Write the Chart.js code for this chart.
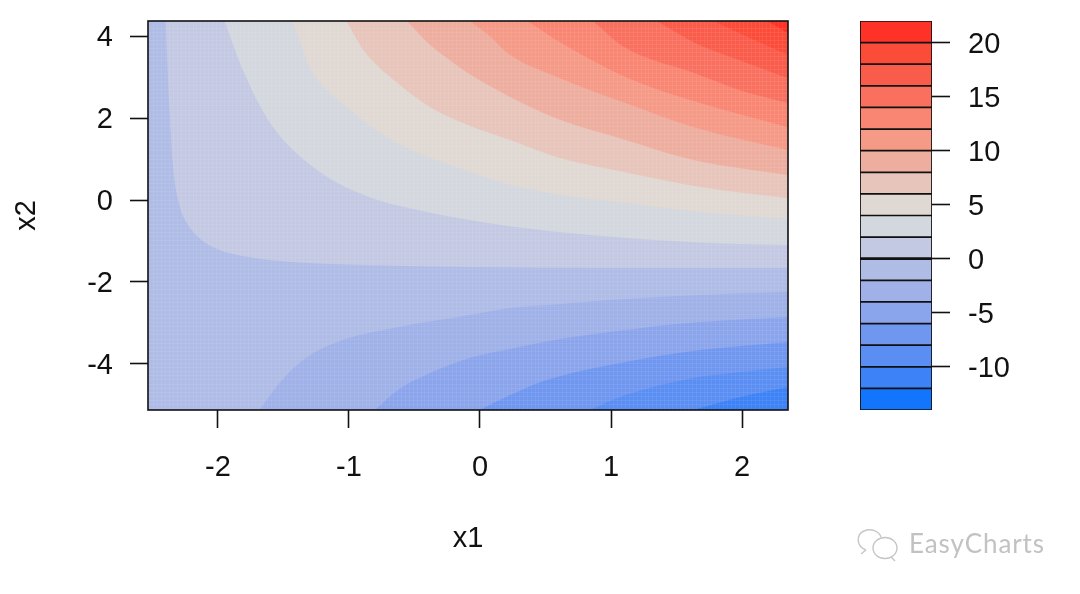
<!DOCTYPE html>
<html>
<head>
<meta charset="utf-8">
<title>Filled contour of x1, x2</title>
<script src="https://cdn.jsdelivr.net/npm/chart.js@4/dist/chart.umd.min.js"></script>
<style>
  html, body { margin: 0; padding: 0; background: #fff; width: 1080px; height: 594px; overflow: hidden; }
  canvas { position: absolute; top: 0; }
  #plot { left: 0; }
  #key { left: 850px; }
  #mark { position: absolute; left: 909px; top: 527px; font: 26px Lato, sans-serif; color: #c2c2c2; letter-spacing: 0.9px; }
  #icon { position: absolute; left: 854px; top: 527px; }
</style>
</head>
<body>
<canvas id="plot" width="1080" height="594"></canvas>
<canvas id="key" width="230" height="594"></canvas>
<svg id="icon" width="48" height="38" fill="none" stroke="#c6c6c6" stroke-width="1.4">
  <path d="M12 23 C3 20 1 8 10 4 C17 1 25 4 27 10"/>
  <path d="M12 23 L7 27"/>
  <ellipse cx="31" cy="21" rx="12" ry="10.5" fill="#fff"/>
  <path d="M37 30 L41 34"/>
</svg>
<div id="mark">EasyCharts</div>

<script>
// axis ticks
const x1Ticks = [-2, -1, 0, 1, 2];
const x2Ticks = [4, 2, 0, -2, -4];
const keyTicks = [20, 15, 10, 5, 0, -5, -10];

// colour key: band edges and the colour of the band above each edge
const keyEdges = [-14, -12, -10, -8, -6, -4, -2, 0, 2, 4, 6, 8, 10, 12, 14, 16, 18, 20, 22];
const bandColors = ['#1275fb', '#3d82f7', '#5b8ef3', '#6f97f0', '#8ba5ec', '#9fb1e8', '#afbce6',
  '#c4c9e3', '#d3d7de', '#e0d8d2', '#e8c5bb', '#eeae9f', '#f69a88', '#f88672', '#f9705f', '#fa5c4b', '#fb4c3a', '#ff3228'];

// contour lines, [x1, x2]
const level0 = [[-2.40, 4.38], [-2.37, 2.20], [-2.34, 0.73], [-2.29, -0.17], [-2.25, -0.49], [-2.18, -0.81], [-2.04, -1.15], [-1.78, -1.39], [-1.40, -1.52], [-0.89, -1.59], [-0.08, -1.64], [1.11, -1.66], [2.35, -1.66]];
const level2 = [[-1.95, 4.38], [-1.81, 3.18], [-1.60, 1.88], [-1.24, 0.73], [-0.84, 0.07], [-0.48, -0.24], [-0.08, -0.49], [0.23, -0.64], [0.86, -0.86], [1.63, -1.03], [2.35, -1.10]];
const level4 = [[-1.43, 4.38], [-1.37, 3.84], [-1.30, 3.25], [-0.99, 2.20], [-0.63, 1.39], [-0.23, 0.86], [0.23, 0.37], [0.74, 0.07], [1.11, -0.07], [1.68, -0.29], [2.35, -0.46]];
const level6 = [[-1.02, 4.38], [-0.89, 3.67], [-0.63, 2.86], [-0.38, 2.27], [-0.15, 1.91], [0.23, 1.47], [0.61, 1.03], [1.11, 0.68], [1.68, 0.32], [2.35, 0.05]];
const level8 = [[-0.56, 4.38], [-0.47, 4.08], [-0.38, 3.79], [-0.23, 3.42], [-0.08, 3.08], [0.23, 2.52], [0.61, 1.96], [1.11, 1.47], [1.63, 0.98], [2.35, 0.61]];
const level10 = [[-0.08, 4.38], [0.08, 3.99], [0.21, 3.59], [0.61, 2.98], [1.11, 2.37], [1.63, 1.78], [2.35, 1.22]];
const level12 = [[0.36, 4.38], [0.61, 3.86], [1.11, 3.01], [1.63, 2.42], [2.35, 1.78]];
const level14 = [[0.86, 4.38], [1.11, 3.72], [1.63, 3.11], [1.98, 2.69], [2.35, 2.37]];
const level16 = [[1.35, 4.38], [1.63, 3.86], [1.98, 3.42], [2.35, 2.98]];
const level18 = [[1.78, 4.38], [2.06, 3.96], [2.35, 3.55]];
const level20 = [[2.19, 4.38], [2.35, 4.08]];
const levelM2 = [[-1.68, -5.13], [-1.53, -4.47], [-1.32, -3.84], [-1.09, -3.47], [-0.63, -3.11], [-0.08, -2.81], [0.23, -2.64], [0.61, -2.54], [1.11, -2.42], [1.68, -2.32], [2.35, -2.25]];
const levelM4 = [[-0.80, -5.13], [-0.63, -4.65], [-0.38, -4.23], [-0.08, -3.86], [0.23, -3.64], [0.61, -3.40], [1.11, -3.18], [1.50, -3.03], [2.35, -2.86]];
const levelM6 = [[0, -5.13], [0.23, -4.77], [0.48, -4.43], [1.11, -3.96], [1.68, -3.67], [2.35, -3.47]];
const levelM8 = [[0.84, -5.13], [1.11, -4.77], [1.63, -4.35], [1.98, -4.21], [2.35, -4.08]];
const levelM10 = [[1.63, -5.13], [1.98, -4.82], [2.35, -4.57]];

const upper = [[level0, 0], [level2, 2], [level4, 4], [level6, 6], [level8, 8], [level10, 10], [level12, 12], [level14, 14], [level16, 16], [level18, 18], [level20, 20]];
const lower = [[levelM2, -2], [levelM4, -4], [levelM6, -6], [levelM8, -8], [levelM10, -10]];

const xRange = [-2.534, 2.351];
const yRange = [-5.134, 4.377];
const ink = '#111';
const font = { family: '"Liberation Sans", Arial, sans-serif', size: 29 };

function bandColor(edge) {
    return bandColors[keyEdges.indexOf(edge)];
}

function contourSet(line, color, fill, order) {
    return {
        data: line.map(p => ({ x: p[0], y: p[1] })),
        showLine: true,
        borderWidth: 0,
        pointRadius: 0,
        cubicInterpolationMode: 'monotone',
        backgroundColor: color,
        fill: fill,
        order: order
    };
}

const datasets = [];
// higher bands get painted over the lower ones, going outwards from the saddle
upper.forEach(u => datasets.push(contourSet(u[0], bandColor(u[1]), 'end', 100 - u[1])));
lower.forEach(l => datasets.push(contourSet(l[0], bandColor(l[1] - 2), 'start', 100 + l[1])));

const plotFrame = {
    id: 'plotFrame',
    beforeDatasetsDraw(chart) {
        const a = chart.chartArea;
        chart.ctx.save();
        chart.ctx.fillStyle = bandColor(-2);
        chart.ctx.fillRect(a.left, a.top, a.width, a.height);
        chart.ctx.restore();
    },
    afterDraw(chart) {
        const a = chart.chartArea;
        chart.ctx.save();
        chart.ctx.strokeStyle = ink;
        chart.ctx.lineWidth = 1.6;
        chart.ctx.strokeRect(a.left, a.top, a.width, a.height);
        chart.ctx.restore();
    }
};

// the labels must not push the plot area around
function pinY(s, width) {
    s.width = width;
    s.paddingTop = 0;
    s.paddingBottom = 0;
}
function pinX(s, height) {
    s.height = height;
    s.paddingLeft = 0;
    s.paddingRight = 0;
}

new Chart(document.getElementById('plot').getContext('2d'), {
    type: 'scatter',
    data: { datasets: datasets },
    plugins: [plotFrame],
    options: {
        responsive: false,
        animation: false,
        layout: { padding: { top: 21, right: 292, left: 0, bottom: 0 } },
        plugins: { legend: { display: false }, tooltip: { enabled: false } },
        scales: {
            x: {
                min: xRange[0], max: xRange[1],
                afterBuildTicks: s => { s.ticks = x1Ticks.map(v => ({ value: v })); },
                afterFit: s => pinX(s, 184),
                grid: { drawOnChartArea: false, tickLength: 18, tickColor: ink, tickWidth: 1.6 },
                border: { display: false },
                ticks: { color: ink, font: font, padding: 23, maxRotation: 0, autoSkip: false },
                title: { display: true, text: 'x1', color: ink, font: font, padding: { top: 0, bottom: 38 } }
            },
            y: {
                min: yRange[0], max: yRange[1],
                afterBuildTicks: s => { s.ticks = x2Ticks.map(v => ({ value: v })); },
                afterFit: s => pinY(s, 148),
                grid: { drawOnChartArea: false, tickLength: 18, tickColor: ink, tickWidth: 1.6 },
                border: { display: false },
                ticks: { color: ink, font: font, padding: 17, labelOffset: 2, autoSkip: false },
                title: { display: true, text: 'x2', color: ink, font: font, padding: { top: 10, bottom: 0 } }
            },
            // faint white weave that runs over the filled bands
            weaveX: {
                position: 'bottom', min: xRange[0], max: xRange[1],
                afterFit: s => pinX(s, 0),
                ticks: { display: false, stepSize: 0.03, autoSkip: false },
                border: { display: false },
                grid: { drawTicks: false, z: 1, color: 'rgba(255,255,255,0.07)' }
            },
            weaveY: {
                position: 'left', min: yRange[0], max: yRange[1],
                afterFit: s => pinY(s, 0),
                ticks: { display: false, stepSize: 0.1, autoSkip: false },
                border: { display: false },
                grid: { drawTicks: false, z: 1, color: 'rgba(255,255,255,0.07)' }
            }
        }
    }
});

// colour key, one floating bar per band, over a dark bar that closes the seams
const keySets = bandColors.map((c, i) => ({
    data: [[keyEdges[i], keyEdges[i + 1]]],
    backgroundColor: c,
    borderColor: ink,
    borderWidth: 1.2,
    borderSkipped: false,
    barPercentage: 1,
    categoryPercentage: 1,
    order: 0
}));
keySets.push({
    data: [[keyEdges[0], keyEdges[keyEdges.length - 1]]],
    backgroundColor: ink,
    barPercentage: 1,
    categoryPercentage: 1,
    order: 1
});

new Chart(document.getElementById('key').getContext('2d'), {
    type: 'bar',
    data: { labels: [''], datasets: keySets },
    options: {
        responsive: false,
        animation: false,
        layout: { padding: { top: 21, bottom: 184, left: 10, right: 0 } },
        plugins: { legend: { display: false }, tooltip: { enabled: false } },
        datasets: { bar: { grouped: false } },
        scales: {
            x: { display: false },
            y: {
                position: 'right',
                min: -14, max: 22,
                afterBuildTicks: s => { s.ticks = keyTicks.map(v => ({ value: v })); },
                afterFit: s => pinY(s, 148),
                grid: { drawOnChartArea: false, tickLength: 18, tickColor: ink, tickWidth: 1.6 },
                border: { display: false },
                ticks: { color: ink, font: font, padding: 18, labelOffset: 2, autoSkip: false }
            }
        }
    }
});
</script>
</body>
</html>
